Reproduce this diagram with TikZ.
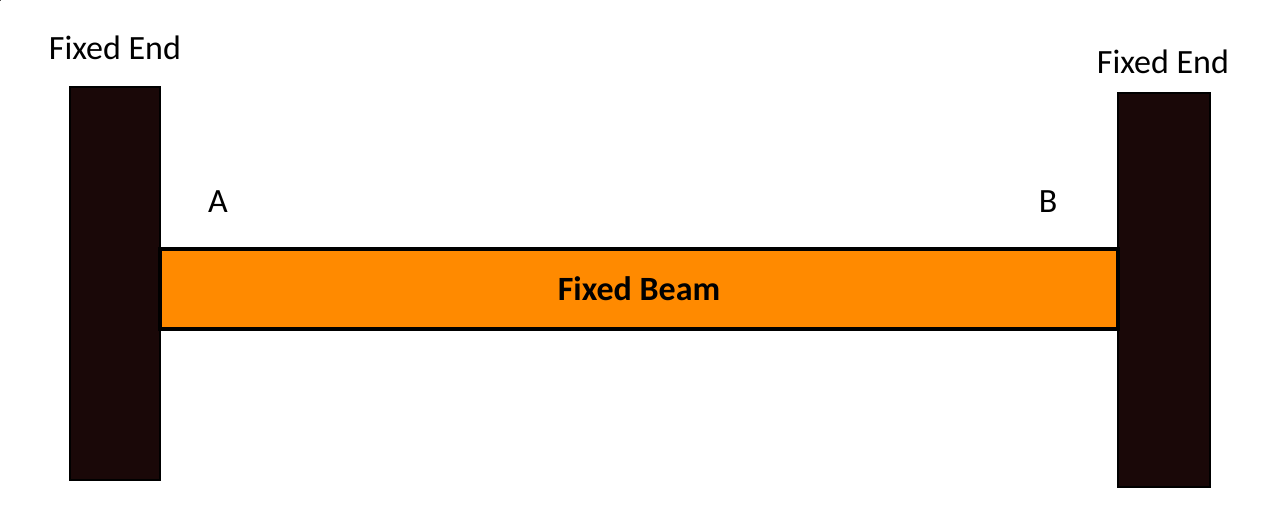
\documentclass[tikz,border=0pt]{standalone}
\usepackage{fontspec}
\setmainfont{Carlito}
\begin{document}
\begin{tikzpicture}[x=1pt,y=-1pt,
  wall/.style={fill=wallc,draw=black,line width=2pt},
  lbl/.style={font=\fontsize{34}{40}\selectfont}]
\definecolor{wallc}{HTML}{1A0808}
\definecolor{beamc}{HTML}{FF8A00}
\useasboundingbox (0,0) rectangle (1273,514);
\node[wall,minimum width=0,inner sep=0] (lw) at (0,0) {};
\fill[wallc,draw=black,line width=2pt] (70,87) rectangle (160,480);
\fill[wallc,draw=black,line width=2pt] (1118,93) rectangle (1210,487);
\node[draw=black,line width=4pt,fill=beamc,minimum width=958pt,minimum height=80pt,inner sep=0,
  font=\fontsize{34}{40}\selectfont\bfseries] (beam) at (639,289) {Fixed Beam};
\node[lbl] (fl) at (115,48) {Fixed End};
\node[lbl] (fr) at (1163,62) {Fixed End};
\node[lbl] (a) at (218,202) {A};
\node[lbl] (b) at (1048,202) {B};
\end{tikzpicture}
\end{document}
